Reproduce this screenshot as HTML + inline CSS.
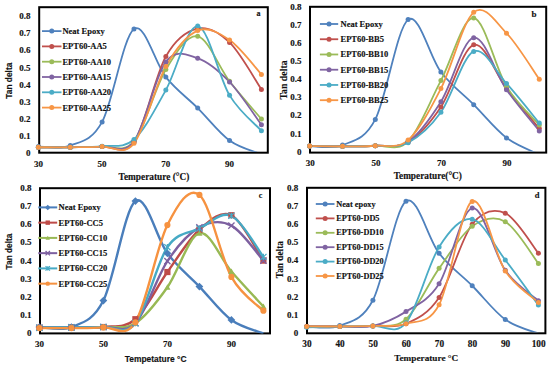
<!DOCTYPE html>
<html><head><meta charset="utf-8"><title>Tan delta vs temperature</title>
<style>
html,body{margin:0;padding:0;background:#fff;}
body{width:550px;height:365px;overflow:hidden;font-family:"Liberation Serif", serif;}
svg{display:block;}
text{fill:#111;stroke:#111;stroke-width:0.14px;}
</style></head>
<body>
<svg width="550" height="365" viewBox="0 0 550 365">
<rect width="550" height="365" fill="#fff"/>
<clipPath id="clipa"><rect x="38.2" y="6.2" width="230.60000000000002" height="145.5"/></clipPath>
<rect x="39.2" y="7.2" width="228.60000000000002" height="145.5" fill="none" stroke="#000" stroke-width="2"/>
<g clip-path="url(#clipa)"><path d="M38.4,146.55 C43.71,146.38 59.64,149.65 70.26,145.54 C80.88,141.43 91.5,141.31 102.12,121.88 C112.74,102.45 123.36,36.39 133.98,28.93 C144.6,21.47 155.22,63.91 165.84,77.1 C176.46,90.28 187.08,97.46 197.7,108.02 C208.32,118.58 218.94,132.75 229.56,140.47 C240.18,148.19 256.11,152.02 261.42,154.33" fill="none" stroke="#4F81BD" stroke-width="1.8" stroke-linejoin="round"/><path d="M38.4,147.23 C43.71,147.23 59.64,147.34 70.26,147.23 C80.88,147.12 91.5,147.4 102.12,146.55 C112.74,145.71 123.36,157.17 133.98,142.16 C144.6,127.15 155.22,75.41 165.84,56.48 C176.46,37.55 187.08,30.93 197.7,28.59 C208.32,26.25 218.94,32.31 229.56,42.45 C240.18,52.59 256.11,81.6 261.42,89.43" fill="none" stroke="#C0504D" stroke-width="1.8" stroke-linejoin="round"/><path d="M38.4,147.23 C43.71,147.23 59.64,147.34 70.26,147.23 C80.88,147.12 91.5,147.54 102.12,146.55 C112.74,145.57 123.36,154.16 133.98,141.31 C144.6,128.47 155.22,86.98 165.84,69.49 C176.46,52 187.08,34.39 197.7,36.37 C208.32,38.34 218.94,67.55 229.56,81.32 C240.18,95.09 256.11,112.73 261.42,119.01" fill="none" stroke="#9BBB59" stroke-width="1.8" stroke-linejoin="round"/><path d="M38.4,147.23 C43.71,147.23 59.64,147.34 70.26,147.23 C80.88,147.12 91.5,147.54 102.12,146.55 C112.74,145.57 123.36,155.43 133.98,141.31 C144.6,127.2 155.22,75.71 165.84,61.89 C176.46,48.06 187.08,54.98 197.7,58.34 C208.32,61.69 218.94,70.93 229.56,82 C240.18,93.07 256.11,117.63 261.42,124.75" fill="none" stroke="#8064A2" stroke-width="1.8" stroke-linejoin="round"/><path d="M38.4,147.23 C43.71,147.23 59.64,147.4 70.26,147.23 C80.88,147.06 91.5,147.51 102.12,146.22 C112.74,144.92 123.36,148.81 133.98,139.46 C144.6,130.1 155.22,109.01 165.84,90.11 C176.46,71.21 187.08,25.18 197.7,26.06 C208.32,26.93 218.94,77.91 229.56,95.35 C240.18,112.78 256.11,124.78 261.42,130.67" fill="none" stroke="#4BACC6" stroke-width="1.8" stroke-linejoin="round"/><path d="M38.4,147.23 C43.71,147.23 59.64,147.34 70.26,147.23 C80.88,147.12 91.5,147.2 102.12,146.55 C112.74,145.91 123.36,156.69 133.98,143.34 C144.6,129.99 155.22,85.24 165.84,66.45 C176.46,47.66 187.08,35.01 197.7,30.62 C208.32,26.23 218.94,32.79 229.56,40.08 C240.18,47.38 256.11,68.67 261.42,74.39" fill="none" stroke="#F79646" stroke-width="1.8" stroke-linejoin="round"/></g>
<circle cx="38.4" cy="146.55" r="2.5" fill="#4F81BD"/><circle cx="70.26" cy="145.54" r="2.5" fill="#4F81BD"/><circle cx="102.12" cy="121.88" r="2.5" fill="#4F81BD"/><circle cx="133.98" cy="28.93" r="2.5" fill="#4F81BD"/><circle cx="165.84" cy="77.1" r="2.5" fill="#4F81BD"/><circle cx="197.7" cy="108.02" r="2.5" fill="#4F81BD"/><circle cx="229.56" cy="140.47" r="2.5" fill="#4F81BD"/><circle cx="38.4" cy="147.23" r="2.5" fill="#C0504D"/><circle cx="70.26" cy="147.23" r="2.5" fill="#C0504D"/><circle cx="102.12" cy="146.55" r="2.5" fill="#C0504D"/><circle cx="133.98" cy="142.16" r="2.5" fill="#C0504D"/><circle cx="165.84" cy="56.48" r="2.5" fill="#C0504D"/><circle cx="197.7" cy="28.59" r="2.5" fill="#C0504D"/><circle cx="229.56" cy="42.45" r="2.5" fill="#C0504D"/><circle cx="261.42" cy="89.43" r="2.5" fill="#C0504D"/><circle cx="38.4" cy="147.23" r="2.5" fill="#9BBB59"/><circle cx="70.26" cy="147.23" r="2.5" fill="#9BBB59"/><circle cx="102.12" cy="146.55" r="2.5" fill="#9BBB59"/><circle cx="133.98" cy="141.31" r="2.5" fill="#9BBB59"/><circle cx="165.84" cy="69.49" r="2.5" fill="#9BBB59"/><circle cx="197.7" cy="36.37" r="2.5" fill="#9BBB59"/><circle cx="229.56" cy="81.32" r="2.5" fill="#9BBB59"/><circle cx="261.42" cy="119.01" r="2.5" fill="#9BBB59"/><circle cx="38.4" cy="147.23" r="2.5" fill="#8064A2"/><circle cx="70.26" cy="147.23" r="2.5" fill="#8064A2"/><circle cx="102.12" cy="146.55" r="2.5" fill="#8064A2"/><circle cx="133.98" cy="141.31" r="2.5" fill="#8064A2"/><circle cx="165.84" cy="61.89" r="2.5" fill="#8064A2"/><circle cx="197.7" cy="58.34" r="2.5" fill="#8064A2"/><circle cx="229.56" cy="82" r="2.5" fill="#8064A2"/><circle cx="261.42" cy="124.75" r="2.5" fill="#8064A2"/><circle cx="38.4" cy="147.23" r="2.5" fill="#4BACC6"/><circle cx="70.26" cy="147.23" r="2.5" fill="#4BACC6"/><circle cx="102.12" cy="146.22" r="2.5" fill="#4BACC6"/><circle cx="133.98" cy="139.46" r="2.5" fill="#4BACC6"/><circle cx="165.84" cy="90.11" r="2.5" fill="#4BACC6"/><circle cx="197.7" cy="26.06" r="2.5" fill="#4BACC6"/><circle cx="229.56" cy="95.35" r="2.5" fill="#4BACC6"/><circle cx="261.42" cy="130.67" r="2.5" fill="#4BACC6"/><circle cx="38.4" cy="147.23" r="2.5" fill="#F79646"/><circle cx="70.26" cy="147.23" r="2.5" fill="#F79646"/><circle cx="102.12" cy="146.55" r="2.5" fill="#F79646"/><circle cx="133.98" cy="143.34" r="2.5" fill="#F79646"/><circle cx="165.84" cy="66.45" r="2.5" fill="#F79646"/><circle cx="197.7" cy="30.62" r="2.5" fill="#F79646"/><circle cx="229.56" cy="40.08" r="2.5" fill="#F79646"/><circle cx="261.42" cy="74.39" r="2.5" fill="#F79646"/>
<line x1="42" y1="31.1" x2="61.5" y2="31.1" stroke="#4F81BD" stroke-width="1.8"/>
<circle cx="51.75" cy="31.1" r="2.5" fill="#4F81BD"/>
<text x="62.4" y="31.1" font-family='"Liberation Serif", serif' font-weight="bold" font-size="8.5" dominant-baseline="central">Neat Epoxy</text>
<line x1="42" y1="46.4" x2="61.5" y2="46.4" stroke="#C0504D" stroke-width="1.8"/>
<circle cx="51.75" cy="46.4" r="2.5" fill="#C0504D"/>
<text x="62.4" y="46.4" font-family='"Liberation Serif", serif' font-weight="bold" font-size="8.5" dominant-baseline="central">EPT60-AA5</text>
<line x1="42" y1="61.7" x2="61.5" y2="61.7" stroke="#9BBB59" stroke-width="1.8"/>
<circle cx="51.75" cy="61.7" r="2.5" fill="#9BBB59"/>
<text x="62.4" y="61.7" font-family='"Liberation Serif", serif' font-weight="bold" font-size="8.5" dominant-baseline="central">EPT60-AA10</text>
<line x1="42" y1="77" x2="61.5" y2="77" stroke="#8064A2" stroke-width="1.8"/>
<circle cx="51.75" cy="77" r="2.5" fill="#8064A2"/>
<text x="62.4" y="77" font-family='"Liberation Serif", serif' font-weight="bold" font-size="8.5" dominant-baseline="central">EPT60-AA15</text>
<line x1="42" y1="92.3" x2="61.5" y2="92.3" stroke="#4BACC6" stroke-width="1.8"/>
<circle cx="51.75" cy="92.3" r="2.5" fill="#4BACC6"/>
<text x="62.4" y="92.3" font-family='"Liberation Serif", serif' font-weight="bold" font-size="8.5" dominant-baseline="central">EPT60-AA20</text>
<line x1="42" y1="107.6" x2="61.5" y2="107.6" stroke="#F79646" stroke-width="1.8"/>
<circle cx="51.75" cy="107.6" r="2.5" fill="#F79646"/>
<text x="62.4" y="107.6" font-family='"Liberation Serif", serif' font-weight="bold" font-size="8.5" dominant-baseline="central">EPT60-AA25</text>
<text x="30.5" y="153.1" font-family='"Liberation Serif", serif' font-weight="bold" font-size="9" text-anchor="end" dominant-baseline="central">0</text>
<text x="30.5" y="135.98" font-family='"Liberation Serif", serif' font-weight="bold" font-size="9" text-anchor="end" dominant-baseline="central">0.1</text>
<text x="30.5" y="118.86" font-family='"Liberation Serif", serif' font-weight="bold" font-size="9" text-anchor="end" dominant-baseline="central">0.2</text>
<text x="30.5" y="101.74" font-family='"Liberation Serif", serif' font-weight="bold" font-size="9" text-anchor="end" dominant-baseline="central">0.3</text>
<text x="30.5" y="84.62" font-family='"Liberation Serif", serif' font-weight="bold" font-size="9" text-anchor="end" dominant-baseline="central">0.4</text>
<text x="30.5" y="67.5" font-family='"Liberation Serif", serif' font-weight="bold" font-size="9" text-anchor="end" dominant-baseline="central">0.5</text>
<text x="30.5" y="50.38" font-family='"Liberation Serif", serif' font-weight="bold" font-size="9" text-anchor="end" dominant-baseline="central">0.6</text>
<text x="30.5" y="33.26" font-family='"Liberation Serif", serif' font-weight="bold" font-size="9" text-anchor="end" dominant-baseline="central">0.7</text>
<text x="30.5" y="16.14" font-family='"Liberation Serif", serif' font-weight="bold" font-size="9" text-anchor="end" dominant-baseline="central">0.8</text>
<text x="38.4" y="163.8" font-family='"Liberation Serif", serif' font-weight="bold" font-size="9" text-anchor="middle" dominant-baseline="central">30</text>
<text x="102.12" y="163.8" font-family='"Liberation Serif", serif' font-weight="bold" font-size="9" text-anchor="middle" dominant-baseline="central">50</text>
<text x="165.84" y="163.8" font-family='"Liberation Serif", serif' font-weight="bold" font-size="9" text-anchor="middle" dominant-baseline="central">70</text>
<text x="229.56" y="163.8" font-family='"Liberation Serif", serif' font-weight="bold" font-size="9" text-anchor="middle" dominant-baseline="central">90</text>
<text x="154" y="177.4" font-family='"Liberation Serif", serif' font-weight="bold" font-size="9.35" text-anchor="middle" dominant-baseline="central">Temperature (°C)</text>
<text transform="translate(8.5,80.7) rotate(-90)" font-family='"Liberation Sans", sans-serif' font-weight="bold" font-size="8.4" text-anchor="middle" dominant-baseline="central">Tan delta</text>
<text x="258.5" y="13.9" font-family='"Liberation Serif", serif' font-weight="bold" font-size="8" text-anchor="middle" dominant-baseline="central">a</text>
<clipPath id="clipb"><rect x="309" y="5.8" width="238.20000000000005" height="145.79999999999998"/></clipPath>
<rect x="310" y="6.8" width="236.20000000000005" height="145.79999999999998" fill="none" stroke="#000" stroke-width="2"/>
<g clip-path="url(#clipb)"><path d="M309.7,146.09 C315.17,145.91 331.57,149.44 342.5,145 C353.43,140.56 364.37,140.35 375.3,119.45 C386.23,98.55 397.17,27.53 408.1,19.62 C419.03,11.71 429.97,57.83 440.9,72 C451.83,86.17 462.77,93.69 473.7,104.67 C484.63,115.65 495.57,129.58 506.5,137.88 C517.43,146.19 533.83,151.72 539.3,154.49" fill="none" stroke="#4F81BD" stroke-width="1.8" stroke-linejoin="round"/><path d="M309.7,146.09 C315.17,146.13 331.57,146.34 342.5,146.28 C353.43,146.22 364.37,146.4 375.3,145.73 C386.23,145.06 397.17,148.71 408.1,142.26 C419.03,135.81 429.97,123.28 440.9,107.04 C451.83,90.8 462.77,47.91 473.7,44.81 C484.63,41.71 495.57,74.46 506.5,88.43 C517.43,102.39 533.83,121.88 539.3,128.58" fill="none" stroke="#C0504D" stroke-width="1.8" stroke-linejoin="round"/><path d="M309.7,146.09 C315.17,146.13 331.57,146.34 342.5,146.28 C353.43,146.22 364.37,146.55 375.3,145.73 C386.23,144.91 397.17,152.21 408.1,141.35 C419.03,130.49 429.97,101.14 440.9,80.58 C451.83,60.02 462.77,16.98 473.7,17.98 C484.63,18.98 495.57,68.78 506.5,86.6 C517.43,104.42 533.83,118.54 539.3,124.93" fill="none" stroke="#9BBB59" stroke-width="1.8" stroke-linejoin="round"/><path d="M309.7,146.09 C315.17,146.13 331.57,146.34 342.5,146.28 C353.43,146.22 364.37,146.49 375.3,145.73 C386.23,144.97 397.17,149.05 408.1,141.72 C419.03,134.38 429.97,119.09 440.9,101.75 C451.83,84.41 462.77,39.7 473.7,37.69 C484.63,35.68 495.57,74.16 506.5,89.7 C517.43,105.25 533.83,124.07 539.3,130.95" fill="none" stroke="#8064A2" stroke-width="1.8" stroke-linejoin="round"/><path d="M309.7,146.09 C315.17,146.13 331.57,146.34 342.5,146.28 C353.43,146.22 364.37,146.34 375.3,145.73 C386.23,145.12 397.17,148.19 408.1,142.63 C419.03,137.06 429.97,127.54 440.9,112.33 C451.83,97.12 462.77,56.18 473.7,51.38 C484.63,46.57 495.57,71.54 506.5,83.5 C517.43,95.45 533.83,116.5 539.3,123.1" fill="none" stroke="#4BACC6" stroke-width="1.8" stroke-linejoin="round"/><path d="M309.7,146.09 C315.17,146.13 331.57,146.34 342.5,146.28 C353.43,146.22 364.37,146.76 375.3,145.73 C386.23,144.7 397.17,149.59 408.1,140.07 C419.03,130.55 429.97,109.9 440.9,88.61 C451.83,67.32 462.77,21.57 473.7,12.32 C484.63,3.08 495.57,21.96 506.5,33.13 C517.43,44.29 533.83,71.6 539.3,79.3" fill="none" stroke="#F79646" stroke-width="1.8" stroke-linejoin="round"/></g>
<circle cx="309.7" cy="146.09" r="2.5" fill="#4F81BD"/><circle cx="342.5" cy="145" r="2.5" fill="#4F81BD"/><circle cx="375.3" cy="119.45" r="2.5" fill="#4F81BD"/><circle cx="408.1" cy="19.62" r="2.5" fill="#4F81BD"/><circle cx="440.9" cy="72" r="2.5" fill="#4F81BD"/><circle cx="473.7" cy="104.67" r="2.5" fill="#4F81BD"/><circle cx="506.5" cy="137.88" r="2.5" fill="#4F81BD"/><circle cx="309.7" cy="146.09" r="2.5" fill="#C0504D"/><circle cx="342.5" cy="146.28" r="2.5" fill="#C0504D"/><circle cx="375.3" cy="145.73" r="2.5" fill="#C0504D"/><circle cx="408.1" cy="142.26" r="2.5" fill="#C0504D"/><circle cx="440.9" cy="107.04" r="2.5" fill="#C0504D"/><circle cx="473.7" cy="44.81" r="2.5" fill="#C0504D"/><circle cx="506.5" cy="88.43" r="2.5" fill="#C0504D"/><circle cx="539.3" cy="128.58" r="2.5" fill="#C0504D"/><circle cx="309.7" cy="146.09" r="2.5" fill="#9BBB59"/><circle cx="342.5" cy="146.28" r="2.5" fill="#9BBB59"/><circle cx="375.3" cy="145.73" r="2.5" fill="#9BBB59"/><circle cx="408.1" cy="141.35" r="2.5" fill="#9BBB59"/><circle cx="440.9" cy="80.58" r="2.5" fill="#9BBB59"/><circle cx="473.7" cy="17.98" r="2.5" fill="#9BBB59"/><circle cx="506.5" cy="86.6" r="2.5" fill="#9BBB59"/><circle cx="539.3" cy="124.93" r="2.5" fill="#9BBB59"/><circle cx="309.7" cy="146.09" r="2.5" fill="#8064A2"/><circle cx="342.5" cy="146.28" r="2.5" fill="#8064A2"/><circle cx="375.3" cy="145.73" r="2.5" fill="#8064A2"/><circle cx="408.1" cy="141.72" r="2.5" fill="#8064A2"/><circle cx="440.9" cy="101.75" r="2.5" fill="#8064A2"/><circle cx="473.7" cy="37.69" r="2.5" fill="#8064A2"/><circle cx="506.5" cy="89.7" r="2.5" fill="#8064A2"/><circle cx="539.3" cy="130.95" r="2.5" fill="#8064A2"/><circle cx="309.7" cy="146.09" r="2.5" fill="#4BACC6"/><circle cx="342.5" cy="146.28" r="2.5" fill="#4BACC6"/><circle cx="375.3" cy="145.73" r="2.5" fill="#4BACC6"/><circle cx="408.1" cy="142.63" r="2.5" fill="#4BACC6"/><circle cx="440.9" cy="112.33" r="2.5" fill="#4BACC6"/><circle cx="473.7" cy="51.38" r="2.5" fill="#4BACC6"/><circle cx="506.5" cy="83.5" r="2.5" fill="#4BACC6"/><circle cx="539.3" cy="123.1" r="2.5" fill="#4BACC6"/><circle cx="309.7" cy="146.09" r="2.5" fill="#F79646"/><circle cx="342.5" cy="146.28" r="2.5" fill="#F79646"/><circle cx="375.3" cy="145.73" r="2.5" fill="#F79646"/><circle cx="408.1" cy="140.07" r="2.5" fill="#F79646"/><circle cx="440.9" cy="88.61" r="2.5" fill="#F79646"/><circle cx="473.7" cy="12.32" r="2.5" fill="#F79646"/><circle cx="506.5" cy="33.13" r="2.5" fill="#F79646"/><circle cx="539.3" cy="79.3" r="2.5" fill="#F79646"/>
<line x1="319.9" y1="24" x2="338.2" y2="24" stroke="#4F81BD" stroke-width="1.8"/>
<circle cx="329.05" cy="24" r="2.5" fill="#4F81BD"/>
<text x="340.5" y="24" font-family='"Liberation Serif", serif' font-weight="bold" font-size="8.5" dominant-baseline="central">Neat Epoxy</text>
<line x1="319.9" y1="39.24" x2="338.2" y2="39.24" stroke="#C0504D" stroke-width="1.8"/>
<circle cx="329.05" cy="39.24" r="2.5" fill="#C0504D"/>
<text x="340.5" y="39.24" font-family='"Liberation Serif", serif' font-weight="bold" font-size="8.5" dominant-baseline="central">EPT60-BB5</text>
<line x1="319.9" y1="54.48" x2="338.2" y2="54.48" stroke="#9BBB59" stroke-width="1.8"/>
<circle cx="329.05" cy="54.48" r="2.5" fill="#9BBB59"/>
<text x="340.5" y="54.48" font-family='"Liberation Serif", serif' font-weight="bold" font-size="8.5" dominant-baseline="central">EPT60-BB10</text>
<line x1="319.9" y1="69.72" x2="338.2" y2="69.72" stroke="#8064A2" stroke-width="1.8"/>
<circle cx="329.05" cy="69.72" r="2.5" fill="#8064A2"/>
<text x="340.5" y="69.72" font-family='"Liberation Serif", serif' font-weight="bold" font-size="8.5" dominant-baseline="central">EPT60-BB15</text>
<line x1="319.9" y1="84.96" x2="338.2" y2="84.96" stroke="#4BACC6" stroke-width="1.8"/>
<circle cx="329.05" cy="84.96" r="2.5" fill="#4BACC6"/>
<text x="340.5" y="84.96" font-family='"Liberation Serif", serif' font-weight="bold" font-size="8.5" dominant-baseline="central">EPT60-BB20</text>
<line x1="319.9" y1="100.2" x2="338.2" y2="100.2" stroke="#F79646" stroke-width="1.8"/>
<circle cx="329.05" cy="100.2" r="2.5" fill="#F79646"/>
<text x="340.5" y="100.2" font-family='"Liberation Serif", serif' font-weight="bold" font-size="8.5" dominant-baseline="central">EPT60-BB25</text>
<text x="301.5" y="151.7" font-family='"Liberation Serif", serif' font-weight="bold" font-size="9" text-anchor="end" dominant-baseline="central">0</text>
<text x="301.5" y="133.59" font-family='"Liberation Serif", serif' font-weight="bold" font-size="9" text-anchor="end" dominant-baseline="central">0.1</text>
<text x="301.5" y="115.48" font-family='"Liberation Serif", serif' font-weight="bold" font-size="9" text-anchor="end" dominant-baseline="central">0.2</text>
<text x="301.5" y="97.37" font-family='"Liberation Serif", serif' font-weight="bold" font-size="9" text-anchor="end" dominant-baseline="central">0.3</text>
<text x="301.5" y="79.26" font-family='"Liberation Serif", serif' font-weight="bold" font-size="9" text-anchor="end" dominant-baseline="central">0.4</text>
<text x="301.5" y="61.15" font-family='"Liberation Serif", serif' font-weight="bold" font-size="9" text-anchor="end" dominant-baseline="central">0.5</text>
<text x="301.5" y="43.04" font-family='"Liberation Serif", serif' font-weight="bold" font-size="9" text-anchor="end" dominant-baseline="central">0.6</text>
<text x="301.5" y="24.93" font-family='"Liberation Serif", serif' font-weight="bold" font-size="9" text-anchor="end" dominant-baseline="central">0.7</text>
<text x="301.5" y="6.82" font-family='"Liberation Serif", serif' font-weight="bold" font-size="9" text-anchor="end" dominant-baseline="central">0.8</text>
<text x="310.3" y="162.6" font-family='"Liberation Serif", serif' font-weight="bold" font-size="9" text-anchor="middle" dominant-baseline="central">30</text>
<text x="375.9" y="162.6" font-family='"Liberation Serif", serif' font-weight="bold" font-size="9" text-anchor="middle" dominant-baseline="central">50</text>
<text x="441.5" y="162.6" font-family='"Liberation Serif", serif' font-weight="bold" font-size="9" text-anchor="middle" dominant-baseline="central">70</text>
<text x="507.1" y="162.6" font-family='"Liberation Serif", serif' font-weight="bold" font-size="9" text-anchor="middle" dominant-baseline="central">90</text>
<text x="427.8" y="176.1" font-family='"Liberation Serif", serif' font-weight="bold" font-size="9.3" text-anchor="middle" dominant-baseline="central">Temperature(°C)</text>
<text transform="translate(283.5,80) rotate(-90)" font-family='"Liberation Serif", serif' font-weight="bold" font-size="9.8" text-anchor="middle" dominant-baseline="central">Tan delta</text>
<text x="533.9" y="14.2" font-family='"Liberation Serif", serif' font-weight="bold" font-size="9" text-anchor="middle" dominant-baseline="central">b</text>
<clipPath id="clipc"><rect x="39" y="187.2" width="232" height="146.2"/></clipPath>
<rect x="40" y="188.2" width="230" height="145.2" fill="none" stroke="#000" stroke-width="2"/>
<g clip-path="url(#clipc)"><path d="M39.4,327.03 C44.73,327.03 60.73,331.45 71.4,327.03 C82.07,322.61 92.73,321.52 103.4,300.53 C114.07,279.54 124.73,208.93 135.4,201.07 C146.07,193.2 156.73,239.09 167.4,253.34 C178.07,267.59 188.73,275.45 199.4,286.55 C210.07,297.66 220.73,312.15 231.4,319.95 C242.07,327.75 258.07,331.14 263.4,333.38" fill="none" stroke="#4A7EBB" stroke-width="2.4" stroke-linejoin="round"/><path d="M39.4,327.75 C44.73,327.69 60.73,327.51 71.4,327.39 C82.07,327.27 92.73,328.39 103.4,327.03 C114.07,325.67 124.73,328.39 135.4,319.22 C146.07,310.06 156.73,286.95 167.4,272.03 C178.07,257.12 188.73,239.21 199.4,229.75 C210.07,220.28 220.73,210.08 231.4,215.22 C242.07,220.37 258.07,253.04 263.4,260.6" fill="none" stroke="#BE4B48" stroke-width="2.4" stroke-linejoin="round"/><path d="M39.4,327.75 C44.73,327.69 60.73,327.51 71.4,327.39 C82.07,327.27 92.73,327.72 103.4,327.03 C114.07,326.33 124.73,329.84 135.4,323.22 C146.07,316.59 156.73,302.28 167.4,287.28 C178.07,272.28 188.73,235.83 199.4,233.19 C210.07,230.56 220.73,259.27 231.4,271.49 C242.07,283.71 258.07,300.68 263.4,306.52" fill="none" stroke="#98B954" stroke-width="2.4" stroke-linejoin="round"/><path d="M39.4,327.75 C44.73,327.69 60.73,327.51 71.4,327.39 C82.07,327.27 92.73,327.72 103.4,327.03 C114.07,326.33 124.73,334.2 135.4,323.22 C146.07,312.24 156.73,277.12 167.4,261.14 C178.07,245.17 188.73,233.31 199.4,227.39 C210.07,221.46 220.73,220.03 231.4,225.57 C242.07,231.11 258.07,254.76 263.4,260.6" fill="none" stroke="#7D60A0" stroke-width="2.4" stroke-linejoin="round"/><path d="M39.4,327.75 C44.73,327.69 60.73,327.51 71.4,327.39 C82.07,327.27 92.73,327.72 103.4,327.03 C114.07,326.33 124.73,336.53 135.4,323.22 C146.07,309.91 156.73,262.96 167.4,247.17 C178.07,231.38 188.73,233.71 199.4,228.47 C210.07,223.24 220.73,211.02 231.4,215.77 C242.07,220.52 258.07,250.1 263.4,256.97" fill="none" stroke="#46AAC5" stroke-width="2.4" stroke-linejoin="round"/><path d="M39.4,328.12 C44.73,328.12 60.73,328.24 71.4,328.12 C82.07,328 92.73,328.36 103.4,327.39 C114.07,326.42 124.73,339.37 135.4,322.31 C146.07,305.25 156.73,246.26 167.4,225.03 C178.07,203.79 188.73,186.25 199.4,194.9 C210.07,203.55 220.73,257.64 231.4,276.94 C242.07,296.23 258.07,305.07 263.4,310.69" fill="none" stroke="#F69240" stroke-width="2.4" stroke-linejoin="round"/></g>
<path d="M39.4,323.15 L43.27,327.03 L39.4,330.9 L35.52,327.03 Z" fill="#4A7EBB"/><path d="M71.4,323.15 L75.28,327.03 L71.4,330.9 L67.53,327.03 Z" fill="#4A7EBB"/><path d="M103.4,296.65 L107.28,300.53 L103.4,304.4 L99.53,300.53 Z" fill="#4A7EBB"/><path d="M135.4,197.19 L139.28,201.07 L135.4,204.94 L131.53,201.07 Z" fill="#4A7EBB"/><path d="M167.4,249.46 L171.28,253.34 L167.4,257.21 L163.53,253.34 Z" fill="#4A7EBB"/><path d="M199.4,282.68 L203.28,286.55 L199.4,290.43 L195.53,286.55 Z" fill="#4A7EBB"/><path d="M231.4,316.08 L235.28,319.95 L231.4,323.83 L227.53,319.95 Z" fill="#4A7EBB"/><rect x="36.3" y="324.65" width="6.2" height="6.2" fill="#BE4B48"/><rect x="68.3" y="324.29" width="6.2" height="6.2" fill="#BE4B48"/><rect x="100.3" y="323.93" width="6.2" height="6.2" fill="#BE4B48"/><rect x="132.3" y="316.12" width="6.2" height="6.2" fill="#BE4B48"/><rect x="164.3" y="268.93" width="6.2" height="6.2" fill="#BE4B48"/><rect x="196.3" y="226.65" width="6.2" height="6.2" fill="#BE4B48"/><rect x="228.3" y="212.12" width="6.2" height="6.2" fill="#BE4B48"/><rect x="260.3" y="257.5" width="6.2" height="6.2" fill="#BE4B48"/><path d="M39.4,324.65 L42.5,330.24 L36.3,330.24 Z" fill="#98B954"/><path d="M71.4,324.29 L74.5,329.87 L68.3,329.87 Z" fill="#98B954"/><path d="M103.4,323.93 L106.5,329.51 L100.3,329.51 Z" fill="#98B954"/><path d="M135.4,320.12 L138.5,325.7 L132.3,325.7 Z" fill="#98B954"/><path d="M167.4,284.18 L170.5,289.76 L164.3,289.76 Z" fill="#98B954"/><path d="M199.4,230.09 L202.5,235.67 L196.3,235.67 Z" fill="#98B954"/><path d="M231.4,268.39 L234.5,273.97 L228.3,273.97 Z" fill="#98B954"/><path d="M263.4,303.42 L266.5,309 L260.3,309 Z" fill="#98B954"/><path d="M36.3,324.65 L42.5,330.86 M36.3,330.86 L42.5,324.65" stroke="#7D60A0" stroke-width="1.3" fill="none"/><path d="M68.3,324.29 L74.5,330.49 M68.3,330.49 L74.5,324.29" stroke="#7D60A0" stroke-width="1.3" fill="none"/><path d="M100.3,323.93 L106.5,330.13 M100.3,330.13 L106.5,323.93" stroke="#7D60A0" stroke-width="1.3" fill="none"/><path d="M132.3,320.12 L138.5,326.32 M132.3,326.32 L138.5,320.12" stroke="#7D60A0" stroke-width="1.3" fill="none"/><path d="M164.3,258.04 L170.5,264.24 M164.3,264.24 L170.5,258.04" stroke="#7D60A0" stroke-width="1.3" fill="none"/><path d="M196.3,224.29 L202.5,230.49 M196.3,230.49 L202.5,224.29" stroke="#7D60A0" stroke-width="1.3" fill="none"/><path d="M228.3,222.47 L234.5,228.67 M228.3,228.67 L234.5,222.47" stroke="#7D60A0" stroke-width="1.3" fill="none"/><path d="M260.3,257.5 L266.5,263.7 M260.3,263.7 L266.5,257.5" stroke="#7D60A0" stroke-width="1.3" fill="none"/><path d="M36.3,324.65 L42.5,330.86 M36.3,330.86 L42.5,324.65 M39.4,324.65 L39.4,330.86" stroke="#46AAC5" stroke-width="1.2" fill="none"/><path d="M68.3,324.29 L74.5,330.49 M68.3,330.49 L74.5,324.29 M71.4,324.29 L71.4,330.49" stroke="#46AAC5" stroke-width="1.2" fill="none"/><path d="M100.3,323.93 L106.5,330.13 M100.3,330.13 L106.5,323.93 M103.4,323.93 L103.4,330.13" stroke="#46AAC5" stroke-width="1.2" fill="none"/><path d="M132.3,320.12 L138.5,326.32 M132.3,326.32 L138.5,320.12 M135.4,320.12 L135.4,326.32" stroke="#46AAC5" stroke-width="1.2" fill="none"/><path d="M164.3,244.07 L170.5,250.27 M164.3,250.27 L170.5,244.07 M167.4,244.07 L167.4,250.27" stroke="#46AAC5" stroke-width="1.2" fill="none"/><path d="M196.3,225.37 L202.5,231.57 M196.3,231.57 L202.5,225.37 M199.4,225.37 L199.4,231.57" stroke="#46AAC5" stroke-width="1.2" fill="none"/><path d="M228.3,212.67 L234.5,218.87 M228.3,218.87 L234.5,212.67 M231.4,212.67 L231.4,218.87" stroke="#46AAC5" stroke-width="1.2" fill="none"/><path d="M260.3,253.87 L266.5,260.07 M260.3,260.07 L266.5,253.87 M263.4,253.87 L263.4,260.07" stroke="#46AAC5" stroke-width="1.2" fill="none"/><circle cx="39.4" cy="328.12" r="3.1" fill="#F69240"/><circle cx="71.4" cy="328.12" r="3.1" fill="#F69240"/><circle cx="103.4" cy="327.39" r="3.1" fill="#F69240"/><circle cx="135.4" cy="322.31" r="3.1" fill="#F69240"/><circle cx="167.4" cy="225.03" r="3.1" fill="#F69240"/><circle cx="199.4" cy="194.9" r="3.1" fill="#F69240"/><circle cx="231.4" cy="276.94" r="3.1" fill="#F69240"/><circle cx="263.4" cy="310.69" r="3.1" fill="#F69240"/>
<line x1="38.3" y1="207.4" x2="57.2" y2="207.4" stroke="#4A7EBB" stroke-width="2"/>
<path d="M47.75,204.65 L50.5,207.4 L47.75,210.15 L45,207.4 Z" fill="#4A7EBB"/>
<text x="58.6" y="207.4" font-family='"Liberation Serif", serif' font-weight="bold" font-size="8.5" dominant-baseline="central">Neat Epoxy</text>
<line x1="38.3" y1="222.65" x2="57.2" y2="222.65" stroke="#BE4B48" stroke-width="2"/>
<rect x="45.55" y="220.45" width="4.4" height="4.4" fill="#BE4B48"/>
<text x="58.6" y="222.65" font-family='"Liberation Serif", serif' font-weight="bold" font-size="8.5" dominant-baseline="central">EPT60-CC5</text>
<line x1="38.3" y1="237.9" x2="57.2" y2="237.9" stroke="#98B954" stroke-width="2"/>
<path d="M47.75,235.7 L49.95,239.66 L45.55,239.66 Z" fill="#98B954"/>
<text x="58.6" y="237.9" font-family='"Liberation Serif", serif' font-weight="bold" font-size="8.5" dominant-baseline="central">EPT60-CC10</text>
<line x1="38.3" y1="253.15" x2="57.2" y2="253.15" stroke="#7D60A0" stroke-width="2"/>
<path d="M45.55,250.95 L49.95,255.35 M45.55,255.35 L49.95,250.95" stroke="#7D60A0" stroke-width="1.3" fill="none"/>
<text x="58.6" y="253.15" font-family='"Liberation Serif", serif' font-weight="bold" font-size="8.5" dominant-baseline="central">EPT60-CC15</text>
<line x1="38.3" y1="268.4" x2="57.2" y2="268.4" stroke="#46AAC5" stroke-width="2"/>
<path d="M45.55,266.2 L49.95,270.6 M45.55,270.6 L49.95,266.2 M47.75,266.2 L47.75,270.6" stroke="#46AAC5" stroke-width="1.2" fill="none"/>
<text x="58.6" y="268.4" font-family='"Liberation Serif", serif' font-weight="bold" font-size="8.5" dominant-baseline="central">EPT60-CC20</text>
<line x1="38.3" y1="283.65" x2="57.2" y2="283.65" stroke="#F69240" stroke-width="2"/>
<circle cx="47.75" cy="283.65" r="2.2" fill="#F69240"/>
<text x="58.6" y="283.65" font-family='"Liberation Serif", serif' font-weight="bold" font-size="8.5" dominant-baseline="central">EPT60-CC25</text>
<text x="31.4" y="333.2" font-family='"Liberation Serif", serif' font-weight="bold" font-size="9" text-anchor="end" dominant-baseline="central">0</text>
<text x="31.4" y="315.05" font-family='"Liberation Serif", serif' font-weight="bold" font-size="9" text-anchor="end" dominant-baseline="central">0.1</text>
<text x="31.4" y="296.9" font-family='"Liberation Serif", serif' font-weight="bold" font-size="9" text-anchor="end" dominant-baseline="central">0.2</text>
<text x="31.4" y="278.75" font-family='"Liberation Serif", serif' font-weight="bold" font-size="9" text-anchor="end" dominant-baseline="central">0.3</text>
<text x="31.4" y="260.6" font-family='"Liberation Serif", serif' font-weight="bold" font-size="9" text-anchor="end" dominant-baseline="central">0.4</text>
<text x="31.4" y="242.45" font-family='"Liberation Serif", serif' font-weight="bold" font-size="9" text-anchor="end" dominant-baseline="central">0.5</text>
<text x="31.4" y="224.3" font-family='"Liberation Serif", serif' font-weight="bold" font-size="9" text-anchor="end" dominant-baseline="central">0.6</text>
<text x="31.4" y="206.15" font-family='"Liberation Serif", serif' font-weight="bold" font-size="9" text-anchor="end" dominant-baseline="central">0.7</text>
<text x="31.4" y="188" font-family='"Liberation Serif", serif' font-weight="bold" font-size="9" text-anchor="end" dominant-baseline="central">0.8</text>
<text x="39.4" y="344" font-family='"Liberation Serif", serif' font-weight="bold" font-size="9" text-anchor="middle" dominant-baseline="central">30</text>
<text x="103.4" y="344" font-family='"Liberation Serif", serif' font-weight="bold" font-size="9" text-anchor="middle" dominant-baseline="central">50</text>
<text x="167.4" y="344" font-family='"Liberation Serif", serif' font-weight="bold" font-size="9" text-anchor="middle" dominant-baseline="central">70</text>
<text x="231.4" y="344" font-family='"Liberation Serif", serif' font-weight="bold" font-size="9" text-anchor="middle" dominant-baseline="central">90</text>
<text x="155.6" y="358.5" font-family='"Liberation Sans", sans-serif' font-weight="bold" font-size="8.45" text-anchor="middle" dominant-baseline="central">Tempetature °C</text>
<text transform="translate(9.4,251.5) rotate(-90)" font-family='"Liberation Sans", sans-serif' font-weight="bold" font-size="8.3" text-anchor="middle" dominant-baseline="central">Tan delta</text>
<text x="260.6" y="195.5" font-family='"Liberation Serif", serif' font-weight="bold" font-size="8" text-anchor="middle" dominant-baseline="central">c</text>
<clipPath id="clipd"><rect x="306" y="186.8" width="240.39999999999998" height="145.5"/></clipPath>
<rect x="307" y="187.8" width="238.39999999999998" height="145.5" fill="none" stroke="#000" stroke-width="2"/>
<g clip-path="url(#clipd)"><path d="M306.7,326.65 C312.22,326.47 328.77,329.96 339.8,325.56 C350.83,321.16 361.87,320.94 372.9,300.22 C383.93,279.5 394.97,209.03 406,201.21 C417.03,193.4 428.07,239.25 439.1,253.34 C450.13,267.43 461.17,274.7 472.2,285.74 C483.23,296.78 494.27,311.62 505.3,319.59 C516.33,327.55 532.88,331.2 538.4,333.52" fill="none" stroke="#4F81BD" stroke-width="1.8" stroke-linejoin="round"/><path d="M306.7,326.47 C312.22,326.47 328.77,326.56 339.8,326.47 C350.83,326.37 361.87,326.37 372.9,325.92 C383.93,325.47 394.97,328.49 406,323.75 C417.03,319.01 428.07,314.1 439.1,297.5 C450.13,280.91 461.17,238.26 472.2,224.2 C483.23,210.14 494.27,208.33 505.3,213.16 C516.33,217.99 532.88,246.49 538.4,253.16" fill="none" stroke="#C0504D" stroke-width="1.8" stroke-linejoin="round"/><path d="M306.7,326.47 C312.22,326.47 328.77,326.56 339.8,326.47 C350.83,326.37 361.87,327.13 372.9,325.92 C383.93,324.72 394.97,328.82 406,319.23 C417.03,309.63 428.07,283.84 439.1,268.36 C450.13,252.89 461.17,234.16 472.2,226.37 C483.23,218.59 494.27,215.48 505.3,221.67 C516.33,227.85 532.88,256.51 538.4,263.48" fill="none" stroke="#9BBB59" stroke-width="1.8" stroke-linejoin="round"/><path d="M306.7,326.47 C312.22,326.47 328.77,326.56 339.8,326.47 C350.83,326.37 361.87,328.4 372.9,325.92 C383.93,323.45 394.97,318.65 406,311.62 C417.03,304.59 428.07,301 439.1,283.75 C450.13,266.49 461.17,210.32 472.2,208.09 C483.23,205.86 494.27,254.91 505.3,270.36 C516.33,285.8 532.88,295.7 538.4,300.76" fill="none" stroke="#8064A2" stroke-width="1.8" stroke-linejoin="round"/><path d="M306.7,327.37 C312.22,327.22 328.77,326.71 339.8,326.47 C350.83,326.22 361.87,326.53 372.9,325.92 C383.93,325.32 394.97,336 406,322.85 C417.03,309.69 428.07,264.29 439.1,247.01 C450.13,229.72 461.17,216.96 472.2,219.13 C483.23,221.3 494.27,245.71 505.3,260.04 C516.33,274.37 532.88,297.6 538.4,305.11" fill="none" stroke="#4BACC6" stroke-width="1.8" stroke-linejoin="round"/><path d="M306.7,326.47 C312.22,326.47 328.77,326.56 339.8,326.47 C350.83,326.37 361.87,326.37 372.9,325.92 C383.93,325.47 394.97,327.28 406,323.75 C417.03,320.22 428.07,325.14 439.1,304.75 C450.13,284.35 461.17,207 472.2,201.39 C483.23,195.78 494.27,254.25 505.3,271.08 C516.33,287.91 532.88,297.17 538.4,302.39" fill="none" stroke="#F79646" stroke-width="1.8" stroke-linejoin="round"/></g>
<circle cx="306.7" cy="326.65" r="2.5" fill="#4F81BD"/><circle cx="339.8" cy="325.56" r="2.5" fill="#4F81BD"/><circle cx="372.9" cy="300.22" r="2.5" fill="#4F81BD"/><circle cx="406" cy="201.21" r="2.5" fill="#4F81BD"/><circle cx="439.1" cy="253.34" r="2.5" fill="#4F81BD"/><circle cx="472.2" cy="285.74" r="2.5" fill="#4F81BD"/><circle cx="505.3" cy="319.59" r="2.5" fill="#4F81BD"/><circle cx="306.7" cy="326.47" r="2.5" fill="#C0504D"/><circle cx="339.8" cy="326.47" r="2.5" fill="#C0504D"/><circle cx="372.9" cy="325.92" r="2.5" fill="#C0504D"/><circle cx="406" cy="323.75" r="2.5" fill="#C0504D"/><circle cx="439.1" cy="297.5" r="2.5" fill="#C0504D"/><circle cx="472.2" cy="224.2" r="2.5" fill="#C0504D"/><circle cx="505.3" cy="213.16" r="2.5" fill="#C0504D"/><circle cx="538.4" cy="253.16" r="2.5" fill="#C0504D"/><circle cx="306.7" cy="326.47" r="2.5" fill="#9BBB59"/><circle cx="339.8" cy="326.47" r="2.5" fill="#9BBB59"/><circle cx="372.9" cy="325.92" r="2.5" fill="#9BBB59"/><circle cx="406" cy="319.23" r="2.5" fill="#9BBB59"/><circle cx="439.1" cy="268.36" r="2.5" fill="#9BBB59"/><circle cx="472.2" cy="226.37" r="2.5" fill="#9BBB59"/><circle cx="505.3" cy="221.67" r="2.5" fill="#9BBB59"/><circle cx="538.4" cy="263.48" r="2.5" fill="#9BBB59"/><circle cx="306.7" cy="326.47" r="2.5" fill="#8064A2"/><circle cx="339.8" cy="326.47" r="2.5" fill="#8064A2"/><circle cx="372.9" cy="325.92" r="2.5" fill="#8064A2"/><circle cx="406" cy="311.62" r="2.5" fill="#8064A2"/><circle cx="439.1" cy="283.75" r="2.5" fill="#8064A2"/><circle cx="472.2" cy="208.09" r="2.5" fill="#8064A2"/><circle cx="505.3" cy="270.36" r="2.5" fill="#8064A2"/><circle cx="538.4" cy="300.76" r="2.5" fill="#8064A2"/><circle cx="306.7" cy="327.37" r="2.5" fill="#4BACC6"/><circle cx="339.8" cy="326.47" r="2.5" fill="#4BACC6"/><circle cx="372.9" cy="325.92" r="2.5" fill="#4BACC6"/><circle cx="406" cy="322.85" r="2.5" fill="#4BACC6"/><circle cx="439.1" cy="247.01" r="2.5" fill="#4BACC6"/><circle cx="472.2" cy="219.13" r="2.5" fill="#4BACC6"/><circle cx="505.3" cy="260.04" r="2.5" fill="#4BACC6"/><circle cx="538.4" cy="305.11" r="2.5" fill="#4BACC6"/><circle cx="306.7" cy="326.47" r="2.5" fill="#F79646"/><circle cx="339.8" cy="326.47" r="2.5" fill="#F79646"/><circle cx="372.9" cy="325.92" r="2.5" fill="#F79646"/><circle cx="406" cy="323.75" r="2.5" fill="#F79646"/><circle cx="439.1" cy="304.75" r="2.5" fill="#F79646"/><circle cx="472.2" cy="201.39" r="2.5" fill="#F79646"/><circle cx="505.3" cy="271.08" r="2.5" fill="#F79646"/><circle cx="538.4" cy="302.39" r="2.5" fill="#F79646"/>
<line x1="315.8" y1="204" x2="334.5" y2="204" stroke="#4F81BD" stroke-width="1.8"/>
<circle cx="325.15" cy="204" r="2.5" fill="#4F81BD"/>
<text x="336.2" y="204" font-family='"Liberation Serif", serif' font-weight="bold" font-size="8.3" dominant-baseline="central">Neat epoxy</text>
<line x1="315.8" y1="218.4" x2="334.5" y2="218.4" stroke="#C0504D" stroke-width="1.8"/>
<circle cx="325.15" cy="218.4" r="2.5" fill="#C0504D"/>
<text x="336.2" y="218.4" font-family='"Liberation Serif", serif' font-weight="bold" font-size="8.3" dominant-baseline="central">EPT60-DD5</text>
<line x1="315.8" y1="232.8" x2="334.5" y2="232.8" stroke="#9BBB59" stroke-width="1.8"/>
<circle cx="325.15" cy="232.8" r="2.5" fill="#9BBB59"/>
<text x="336.2" y="232.8" font-family='"Liberation Serif", serif' font-weight="bold" font-size="8.3" dominant-baseline="central">EPT60-DD10</text>
<line x1="315.8" y1="247.2" x2="334.5" y2="247.2" stroke="#8064A2" stroke-width="1.8"/>
<circle cx="325.15" cy="247.2" r="2.5" fill="#8064A2"/>
<text x="336.2" y="247.2" font-family='"Liberation Serif", serif' font-weight="bold" font-size="8.3" dominant-baseline="central">EPT60-DD15</text>
<line x1="315.8" y1="261.6" x2="334.5" y2="261.6" stroke="#4BACC6" stroke-width="1.8"/>
<circle cx="325.15" cy="261.6" r="2.5" fill="#4BACC6"/>
<text x="336.2" y="261.6" font-family='"Liberation Serif", serif' font-weight="bold" font-size="8.3" dominant-baseline="central">EPT60-DD20</text>
<line x1="315.8" y1="276" x2="334.5" y2="276" stroke="#F79646" stroke-width="1.8"/>
<circle cx="325.15" cy="276" r="2.5" fill="#F79646"/>
<text x="336.2" y="276" font-family='"Liberation Serif", serif' font-weight="bold" font-size="8.3" dominant-baseline="central">EPT60-DD25</text>
<text x="298.3" y="332.8" font-family='"Liberation Serif", serif' font-weight="bold" font-size="9" text-anchor="end" dominant-baseline="central">0</text>
<text x="298.3" y="314.7" font-family='"Liberation Serif", serif' font-weight="bold" font-size="9" text-anchor="end" dominant-baseline="central">0.1</text>
<text x="298.3" y="296.6" font-family='"Liberation Serif", serif' font-weight="bold" font-size="9" text-anchor="end" dominant-baseline="central">0.2</text>
<text x="298.3" y="278.5" font-family='"Liberation Serif", serif' font-weight="bold" font-size="9" text-anchor="end" dominant-baseline="central">0.3</text>
<text x="298.3" y="260.4" font-family='"Liberation Serif", serif' font-weight="bold" font-size="9" text-anchor="end" dominant-baseline="central">0.4</text>
<text x="298.3" y="242.3" font-family='"Liberation Serif", serif' font-weight="bold" font-size="9" text-anchor="end" dominant-baseline="central">0.5</text>
<text x="298.3" y="224.2" font-family='"Liberation Serif", serif' font-weight="bold" font-size="9" text-anchor="end" dominant-baseline="central">0.6</text>
<text x="298.3" y="206.1" font-family='"Liberation Serif", serif' font-weight="bold" font-size="9" text-anchor="end" dominant-baseline="central">0.7</text>
<text x="298.3" y="188" font-family='"Liberation Serif", serif' font-weight="bold" font-size="9" text-anchor="end" dominant-baseline="central">0.8</text>
<text x="307" y="343.6" font-family='"Liberation Serif", serif' font-weight="bold" font-size="9.3" text-anchor="middle" dominant-baseline="central">30</text>
<text x="340.1" y="343.6" font-family='"Liberation Serif", serif' font-weight="bold" font-size="9.3" text-anchor="middle" dominant-baseline="central">40</text>
<text x="373.2" y="343.6" font-family='"Liberation Serif", serif' font-weight="bold" font-size="9.3" text-anchor="middle" dominant-baseline="central">50</text>
<text x="406.3" y="343.6" font-family='"Liberation Serif", serif' font-weight="bold" font-size="9.3" text-anchor="middle" dominant-baseline="central">60</text>
<text x="439.4" y="343.6" font-family='"Liberation Serif", serif' font-weight="bold" font-size="9.3" text-anchor="middle" dominant-baseline="central">70</text>
<text x="472.5" y="343.6" font-family='"Liberation Serif", serif' font-weight="bold" font-size="9.3" text-anchor="middle" dominant-baseline="central">80</text>
<text x="505.6" y="343.6" font-family='"Liberation Serif", serif' font-weight="bold" font-size="9.3" text-anchor="middle" dominant-baseline="central">90</text>
<text x="538.7" y="343.6" font-family='"Liberation Serif", serif' font-weight="bold" font-size="9.3" text-anchor="middle" dominant-baseline="central">100</text>
<text x="426.2" y="358.1" font-family='"Liberation Serif", serif' font-weight="bold" font-size="9.24" text-anchor="middle" dominant-baseline="central">Temperature °C</text>
<text transform="translate(280,259.6) rotate(-90)" font-family='"Liberation Serif", serif' font-weight="bold" font-size="9.3" text-anchor="middle" dominant-baseline="central">Tan delta</text>
<text x="537.1" y="195.4" font-family='"Liberation Serif", serif' font-weight="bold" font-size="8.5" text-anchor="middle" dominant-baseline="central">d</text>
</svg>
</body></html>
